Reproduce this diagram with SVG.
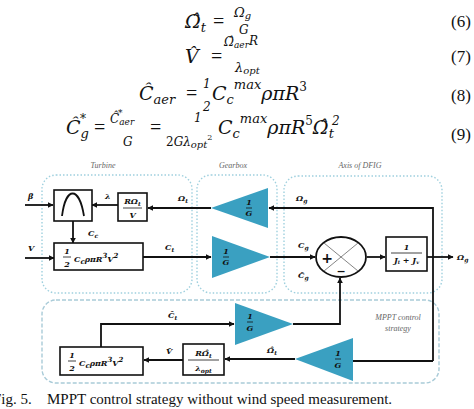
<svg xmlns="http://www.w3.org/2000/svg" width="474" height="409" viewBox="0 0 474 409">
<defs>
<marker id="ah" viewBox="0 0 10 10" refX="9" refY="5" markerWidth="6" markerHeight="6" orient="auto" markerUnits="userSpaceOnUse">
<path d="M0,0 L10,5 L0,10 z" fill="#111"/>
</marker>
<style>
.m{font-family:"DejaVu Serif","Liberation Serif",serif;font-style:italic;fill:#111}
.eq{font-family:"Liberation Serif","DejaVu Serif",serif;fill:#111}
.n{font-family:"Liberation Serif","DejaVu Serif",serif;fill:#111}
.lb{font-family:"DejaVu Serif","Liberation Serif",serif;font-style:italic;font-weight:bold;fill:#111;font-size:8px}
.sec{font-family:"Liberation Serif",serif;font-style:italic;fill:#666;font-size:8px}
.ln{stroke:#111;stroke-width:1.8;fill:none}
.ar{stroke:#111;stroke-width:1.8;fill:none;marker-end:url(#ah)}
.blk{fill:#fff;stroke:#111;stroke-width:1.6}
.tri{fill:#3aa0c1;stroke:none}
.reg{fill:none;stroke:#9fd0de;stroke-width:1.4;stroke-dasharray:1.5 2}
.mreg{fill:none;stroke:#a9cbd8;stroke-width:1.4;stroke-dasharray:4 2}
.bar{stroke:#111;stroke-width:0.8}
</style>
</defs>
<rect width="474" height="409" fill="#fff"/>

<!-- equations -->
<g id="eq6">
<text class="m" x="185" y="28" font-size="19">Ω̂<tspan font-size="13" dy="4">t</tspan></text>
<text class="eq" x="213" y="28" font-size="20">=</text>
<text class="m" x="234" y="17" font-size="13">Ω<tspan font-size="10" dy="2">g</tspan></text>
<text class="m" x="239" y="34" font-size="12">G</text>
<text class="n" x="451" y="27" font-size="17">(6)</text>
</g>
<g id="eq7">
<text class="m" x="185" y="63" font-size="19">V̂</text>
<text class="eq" x="211" y="63" font-size="20">=</text>
<text class="m" x="224" y="46" font-size="12">Ω̂<tspan font-size="9" dy="2">aer</tspan><tspan font-size="12" dy="-3">R</tspan></text>
<text class="m" x="235" y="72" font-size="13">λ<tspan font-size="10" dy="2">opt</tspan></text>
<text class="n" x="451" y="62" font-size="17">(7)</text>
</g>
<g id="eq8">
<text class="m" x="139" y="100" font-size="19">Ĉ<tspan font-size="13" dy="4">aer</tspan></text>
<text class="eq" x="186" y="100" font-size="20">=</text>
<text class="m" x="203" y="88" font-size="12" font-style="normal">1</text>
<text class="m" x="203" y="111" font-size="12" font-style="normal">2</text>
<text class="m" x="212" y="100" font-size="19">C<tspan font-size="13" dy="4">c</tspan><tspan font-size="13" dy="-15">max</tspan><tspan font-size="19" dy="11">ρπR</tspan><tspan font-size="12" dy="-9" font-style="normal">3</tspan></text>
<text class="n" x="451" y="101" font-size="17">(8)</text>
</g>
<g id="eq9">
<text class="m" x="66" y="134" font-size="19">Ĉ<tspan font-size="13" dy="4">g</tspan></text>
<text class="m" x="80" y="123" font-size="12">*</text>
<text class="eq" x="94" y="134" font-size="20">=</text>
<text class="m" x="110" y="123" font-size="12">Ĉ<tspan font-size="9" dy="2">aer</tspan></text>
<text class="m" x="118" y="116" font-size="9">*</text>
<text class="m" x="123" y="146" font-size="12">G</text>
<text class="eq" x="150" y="134" font-size="20">=</text>
<text class="m" x="194" y="122" font-size="12" font-style="normal">1</text>
<text class="m" x="166" y="146" font-size="12"><tspan font-style="normal">2</tspan>Gλ<tspan font-size="10" dy="2">opt</tspan><tspan font-size="8" dy="-8" font-style="normal">2</tspan></text>
<text class="m" x="218" y="134" font-size="19">C<tspan font-size="13" dy="4">c</tspan><tspan font-size="13" dy="-15">max</tspan><tspan font-size="19" dy="11">ρπR</tspan><tspan font-size="12" dy="-9" font-style="normal">5</tspan><tspan font-size="19" dy="9">Ω̂</tspan><tspan font-size="13" dy="4">t</tspan></text>
<text class="m" x="332" y="125" font-size="12" font-style="normal">2</text>
<text class="n" x="451" y="140" font-size="17">(9)</text>
</g>

<!-- regions -->
<g id="regions">
<rect id="turbine" class="reg" x="42" y="175" width="150" height="118" rx="14"/>
<rect id="gearbox" class="reg" x="197" y="175" width="80" height="118" rx="14"/>
<rect id="axis" class="reg" x="284" y="176" width="158" height="117" rx="14"/>
<rect id="mppt" class="mreg" x="42" y="300" width="397" height="83" rx="14"/>
<text class="sec" x="103" y="168" text-anchor="middle">Turbine</text>
<text class="sec" x="233" y="168" text-anchor="middle">Gearbox</text>
<text class="sec" x="360" y="168" text-anchor="middle">Axis of DFIG</text>
<text class="sec" x="398" y="320" text-anchor="middle">MPPT control</text>
<text class="sec" x="398" y="331" text-anchor="middle">strategy</text>
</g>

<!-- connectors -->
<g id="connectors">
<line class="ar" x1="25" y1="205" x2="53" y2="205"/>
<line class="ar" x1="25" y1="258" x2="54" y2="258"/>
<line class="ar" x1="118" y1="205" x2="92" y2="205"/>
<line class="ar" x1="73" y1="221" x2="73" y2="243"/>
<line class="ar" x1="211" y1="208" x2="148" y2="208"/>
<line class="ar" x1="143" y1="257" x2="211" y2="257"/>
<polyline class="ar" points="433,361 433,208 269,208"/>
<line class="ar" x1="270" y1="257" x2="315" y2="257"/>
<line class="ar" x1="367" y1="257" x2="385" y2="257"/>
<line class="ar" x1="427" y1="257" x2="453" y2="257"/>
<line class="ln" x1="433" y1="361" x2="353" y2="361"/>
<line class="ar" x1="295" y1="359" x2="225" y2="359"/>
<line class="ar" x1="183" y1="360" x2="144" y2="360"/>
<polyline class="ar" points="101,347 101,324 234,324"/>
<polyline class="ar" points="293,324 340,324 340,278"/>
</g>

<!-- labels on connectors -->
<g id="labels">
<text class="lb" x="28" y="199">β</text>
<text class="lb" x="28" y="251">V</text>
<text class="lb" x="105" y="199">λ</text>
<text class="lb" x="178" y="201">Ω<tspan font-size="6" dy="2">t</tspan></text>
<text class="lb" x="88" y="236">C<tspan font-size="6" dy="2">c</tspan></text>
<text class="lb" x="165" y="250">C<tspan font-size="6" dy="2">t</tspan></text>
<text class="lb" x="296" y="201">Ω<tspan font-size="6" dy="2">g</tspan></text>
<text class="lb" x="298" y="248">C<tspan font-size="6" dy="2">g</tspan></text>
<text class="lb" x="298" y="278">C̃<tspan font-size="6" dy="2">g</tspan></text>
<text class="lb" x="457" y="260" font-weight="normal">Ω<tspan font-size="6" dy="2">g</tspan></text>
<text class="lb" x="168" y="318">Ĉ<tspan font-size="6" dy="2">t</tspan></text>
<text class="lb" x="166" y="354">V̂</text>
<text class="lb" x="267" y="353">Ω̂<tspan font-size="6" dy="2">t</tspan></text>
</g>

<!-- nodes -->
<g id="curve">
<rect class="blk" x="54" y="190" width="38" height="31"/>
<path d="M62,216 C66,186 79,186 84,216" class="ln" stroke-width="1.6"/>
</g>
<g id="lambda_block">
<rect class="blk" x="118" y="193" width="29" height="28"/>
<text class="lb" x="132.5" y="204" text-anchor="middle" font-size="9">RΩ<tspan font-size="6" dy="2">t</tspan></text>
<line class="bar" x1="123" y1="208" x2="142" y2="208"/>
<text class="lb" x="132.5" y="218" text-anchor="middle" font-size="9">V</text>
</g>
<g id="torque_block">
<rect class="blk" x="54" y="243" width="89" height="27"/>
<text class="lb" x="67" y="254" text-anchor="middle" font-style="normal" font-size="9">1</text>
<line class="bar" x1="63" y1="257" x2="71" y2="257"/>
<text class="lb" x="67" y="267" text-anchor="middle" font-style="normal" font-size="9">2</text>
<text class="lb" x="74" y="262" font-size="10.5">C<tspan font-size="7" dy="2">c</tspan><tspan dy="-2">ρπR</tspan><tspan font-size="7" dy="-4">3</tspan><tspan dy="4">V</tspan><tspan font-size="7" dy="-4">2</tspan></text>
</g>
<g id="gain_top">
<polygon class="tri" points="211,208 268,188 268,228"/>
<text class="lb" x="249" y="205" text-anchor="middle" font-style="normal">1</text>
<line class="bar" x1="246" y1="208" x2="252" y2="208"/>
<text class="lb" x="249" y="216" text-anchor="middle">G</text>
</g>
<g id="gain_bottom">
<polygon class="tri" points="212,236 212,278 270,257"/>
<text class="lb" x="226" y="254" text-anchor="middle" font-style="normal">1</text>
<line class="bar" x1="223" y1="257" x2="229" y2="257"/>
<text class="lb" x="226" y="265" text-anchor="middle">G</text>
</g>
<g id="sum">
<ellipse cx="341" cy="257" rx="25" ry="20" fill="#fff" stroke="#111" stroke-width="1.8"/>
<line x1="324" y1="243" x2="358" y2="271" stroke="#777" stroke-width="0.9"/>
<line x1="358" y1="243" x2="324" y2="271" stroke="#777" stroke-width="0.9"/>
<text x="327" y="263" font-family="DejaVu Sans,sans-serif" font-weight="bold" font-size="14" fill="#111" text-anchor="middle">+</text>
<text x="341" y="275" font-family="DejaVu Sans,sans-serif" font-weight="bold" font-size="11" fill="#111" text-anchor="middle">−</text>
</g>
<g id="inertia">
<rect class="blk" x="386" y="237" width="41" height="34"/>
<text class="lb" x="406.5" y="250" text-anchor="middle" font-style="normal" font-size="7">1</text>
<line class="bar" x1="391" y1="253" x2="422" y2="253"/>
<text class="lb" x="406.5" y="263" text-anchor="middle" font-size="7">J<tspan font-size="5" dy="1">t</tspan><tspan dy="-1" font-style="normal"> + </tspan>J<tspan font-size="5" dy="1">v</tspan></text>
</g>
<g id="gain_mppt_up">
<polygon class="tri" points="235,303 235,345 293,324"/>
<text class="lb" x="250" y="319" text-anchor="middle" font-style="normal">1</text>
<line class="bar" x1="247" y1="322" x2="253" y2="322"/>
<text class="lb" x="250" y="331" text-anchor="middle">G</text>
</g>
<g id="gain_mppt_down">
<polygon class="tri" points="353,338 353,381 295,359"/>
<text class="lb" x="338" y="356" text-anchor="middle" font-style="normal">1</text>
<line class="bar" x1="335" y1="359" x2="341" y2="359"/>
<text class="lb" x="338" y="368" text-anchor="middle">G</text>
</g>
<g id="vhat_block">
<rect class="blk" x="183" y="344" width="41" height="31"/>
<text class="lb" x="203.5" y="356" text-anchor="middle" font-size="9">RΩ̂<tspan font-size="6" dy="2">t</tspan></text>
<line class="bar" x1="188" y1="360" x2="219" y2="360"/>
<text class="lb" x="203.5" y="371" text-anchor="middle" font-size="9">λ<tspan font-size="6" dy="2">opt</tspan></text>
</g>
<g id="ct_hat_block">
<rect class="blk" x="60" y="347" width="83" height="28"/>
<text class="lb" x="72" y="358" text-anchor="middle" font-style="normal" font-size="9">1</text>
<line class="bar" x1="68" y1="361" x2="76" y2="361"/>
<text class="lb" x="72" y="371" text-anchor="middle" font-style="normal" font-size="9">2</text>
<text class="lb" x="79" y="366" font-size="10">C<tspan font-size="7" dy="2">c</tspan><tspan dy="-2">ρπR</tspan><tspan font-size="7" dy="-4">3</tspan><tspan dy="4">V</tspan><tspan font-size="7" dy="-4">2</tspan></text>
</g>

<g id="caption">
<text class="n" x="-7" y="404" font-size="15">Fig. 5.</text>
<text class="n" x="47" y="404" font-size="15">MPPT control strategy without wind speed measurement.</text>
</g>
</svg>
